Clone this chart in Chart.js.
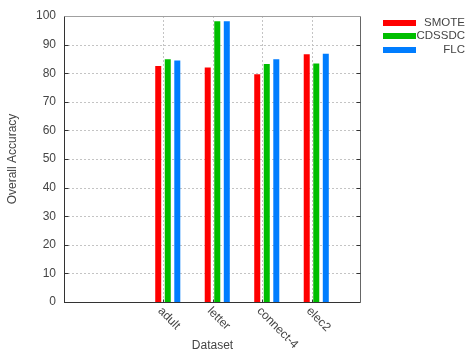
<!DOCTYPE html>
<html>
<head>
<meta charset="utf-8">
<script src="https://cdn.jsdelivr.net/npm/chart.js@4/dist/chart.umd.min.js"></script>
<style>
  html, body { margin: 0; padding: 0; background: #fff; }
  #wrap { width: 474px; height: 355px; }
</style>
</head>
<body>
<div id="wrap"><canvas id="c" width="474" height="355"></canvas></div>
<script>
// ---- data ----
const categories = ['', '', 'adult', 'letter', 'connect-4', 'elec2', ''];
const seriesNames = ['SMOTE', 'CDSSDC', 'FLC'];
const smote  = [null, null, 82.5, 82.0, 79.6, 86.6, null];
const cdssdc = [null, null, 84.9, 98.2, 83.2, 83.4, null];
const flc    = [null, null, 84.4, 98.2, 84.9, 86.8, null];
const ghost  = [null, null, null, null, null, null, null];
const yTicks = [0, 10, 20, 30, 40, 50, 60, 70, 80, 90, 100];
const colors = ['rgb(255,0,0)', 'rgb(0,190,0)', 'rgb(0,125,255)'];

const FONT = '"Liberation Sans", Arial, sans-serif';
const TEXT = '#454545';

function line(ctx, x1, y1, x2, y2) {
  ctx.beginPath(); ctx.moveTo(x1, y1); ctx.lineTo(x2, y2); ctx.stroke();
}

const framePlugin = {
  id: 'frame',
  beforeDatasetsDraw(chart) {
    const { ctx, chartArea: a, scales: { x, y } } = chart;
    ctx.save();
    ctx.strokeStyle = '#c4c4c4';
    ctx.lineWidth = 1;
    ctx.setLineDash([2, 2]);
    yTicks.forEach(v => {
      if (v <= 0 || v >= 100) return;
      const py = Math.round(y.getPixelForValue(v)) + 0.5;
      line(ctx, a.left, py, a.right, py);
    });
    categories.forEach((c, i) => {
      if (!c) return;
      const px = Math.round(x.getPixelForValue(i)) + 0.5;
      line(ctx, px, a.top, px, a.bottom);
    });
    ctx.restore();
  },
  afterDatasetsDraw(chart) {
    const { ctx, chartArea: a, scales: { x, y } } = chart;
    const L = Math.round(a.left) + 0.5, R = Math.round(a.right) - 0.5;
    const T = Math.round(a.top) + 0.5, B = Math.round(a.bottom) + 0.5;
    ctx.save();
    ctx.setLineDash([]);
    ctx.lineWidth = 1;
    // frame
    ctx.strokeStyle = '#a0a0a0';
    line(ctx, L, T, R, T);
    ctx.strokeStyle = '#666';
    line(ctx, R, T, R, B);
    ctx.strokeStyle = '#333';
    line(ctx, L, T, L, B + 0.5);
    line(ctx, L, B, R, B);
    // tick marks (inward)
    ctx.strokeStyle = '#333';
    yTicks.forEach(v => {
      if (v <= 0 || v >= 100) return;
      const py = Math.round(y.getPixelForValue(v)) + 0.5;
      line(ctx, L, py, L + 4, py);
      line(ctx, R, py, R - 4, py);
    });
    categories.forEach((c, i) => {
      if (!c) return;
      const px = Math.round(x.getPixelForValue(i)) + 0.5;
      line(ctx, px, B, px, B - 3);
    });
    // rotated x labels
    ctx.fillStyle = TEXT;
    ctx.font = '12px ' + FONT;
    ctx.textAlign = 'left';
    ctx.textBaseline = 'top';
    categories.forEach((c, i) => {
      if (!c) return;
      const px = x.getPixelForValue(i);
      ctx.save();
      ctx.translate(px + 1, a.bottom + 3);
      ctx.rotate(Math.PI / 4);
      ctx.fillText(c, 0, 0);
      ctx.restore();
    });
    // legend
    const legY = [23, 36, 50];
    ctx.font = '11.5px ' + FONT;
    ctx.textAlign = 'right';
    ctx.textBaseline = 'middle';
    chart.data.datasets.slice(1).forEach((ds, k) => {
      ctx.fillStyle = ds.backgroundColor;
      ctx.fillRect(383, legY[k] - 3, 33, 6);
      ctx.fillStyle = TEXT;
      ctx.fillText(ds.label, 465, legY[k]);
    });
    ctx.restore();
  }
};

new Chart(document.getElementById('c'), {
  type: 'bar',
  data: {
    labels: categories,
    datasets: [
      { label: '', data: ghost, backgroundColor: 'rgba(0,0,0,0)' },
      { label: seriesNames[0], data: smote,  backgroundColor: colors[0] },
      { label: seriesNames[1], data: cdssdc, backgroundColor: colors[1] },
      { label: seriesNames[2], data: flc,    backgroundColor: colors[2] }
    ]
  },
  options: {
    responsive: false,
    animation: false,
    devicePixelRatio: 1,
    layout: { padding: { top: 16, right: 113, left: 0, bottom: 0 } },
    datasets: { bar: { categoryPercentage: 0.77, barPercentage: 0.63, borderWidth: 0 } },
    plugins: { legend: { display: false }, tooltip: { enabled: false } },
    scales: {
      x: {
        offset: false,
        grid: { display: false },
        border: { display: false },
        ticks: { display: false },
        title: { display: true, text: 'Dataset', color: TEXT, font: { family: FONT, size: 12 }, padding: { top: 0, bottom: 2 } },
        afterFit(s) { s.height = 53; }
      },
      y: {
        min: 0, max: 100,
        grid: { display: false, drawTicks: false },
        border: { display: false },
        ticks: { stepSize: 10, padding: 8, color: TEXT, font: { family: FONT, size: 12 } },
        title: { display: true, text: 'Overall Accuracy', color: TEXT, font: { family: FONT, size: 12 }, padding: { top: 5, bottom: 0 } },
        afterFit(s) { s.width = 64; }
      }
    }
  },
  plugins: [framePlugin]
});
</script>
</body>
</html>
